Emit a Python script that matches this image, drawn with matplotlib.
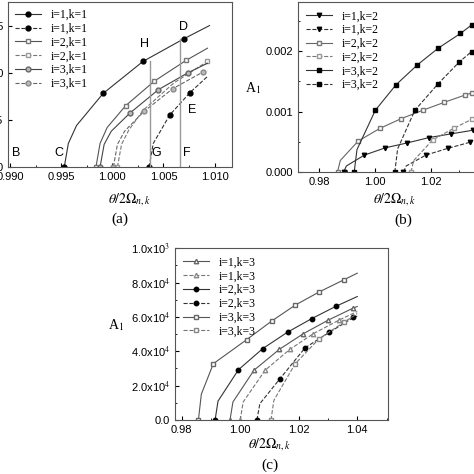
import matplotlib
matplotlib.use('Agg')
import matplotlib.pyplot as plt
from matplotlib.ticker import AutoMinorLocator

plt.rcParams['font.family'] = ['Liberation Sans', 'DejaVu Sans']
plt.rcParams['mathtext.fontset'] = 'stix'
SERIF = ['Liberation Serif', 'DejaVu Serif']

# ---------------- panel (a) data ----------------
a_labels = ['i=1,k=1', 'i=1,k=1', 'i=2,k=1', 'i=2,k=1', 'i=3,k=1', 'i=3,k=1']
a_x = [
    [0.9953, 0.9957, 0.9965, 0.9991, 1.0030, 1.0070, 1.0095],
    [1.0036, 1.0040, 1.0047, 1.0056, 1.0076, 1.0093],
    [0.9984, 0.9988, 0.9995, 1.0013, 1.0041, 1.0072, 1.0093],
    [1.0005, 1.0009, 1.0016, 1.0030, 1.0060, 1.0093],
    [0.9988, 0.9992, 0.9999, 1.0017, 1.0045, 1.0074, 1.0093],
    [1.0001, 1.0005, 1.0012, 1.0031, 1.0059, 1.0089, 1.0093],
]
a_y = [
    [0, 0.25, 0.44, 0.78, 1.12, 1.36, 1.50],
    [0, 0.25, 0.38, 0.55, 0.79, 0.96],
    [0, 0.25, 0.42, 0.65, 0.91, 1.13, 1.26],
    [0, 0.24, 0.39, 0.60, 0.89, 1.12],
    [0, 0.24, 0.38, 0.57, 0.82, 1.00, 1.10],
    [0, 0.24, 0.38, 0.59, 0.83, 1.01, 1.02],
]
a_marks = [[0, 3, 4, 5], [0, 3, 4], [0, 3, 4, 5], [0, 5], [0, 3, 4, 5], [0, 3, 4, 5]]
a_vx = [1.00365, 1.0066]
a_vtop = [1.12, 1.36]
a_pt_labels = ['B', 'C', 'G', 'F', 'E', 'H', 'D']
a_pt_x = [0.9906, 0.9948, 1.0043, 1.0073, 1.0078, 1.0031, 1.0070]
a_pt_y = [0.15, 0.15, 0.15, 0.15, 0.60, 1.30, 1.48]
a_xticks = [0.990, 0.995, 1.000, 1.005, 1.010]
a_xticklabels = ['0.990', '0.995', '1.000', '1.005', '1.010']
a_yticks = [0, 0.5, 1.0, 1.5]
a_yticklabels = ['0', '0.5', '1.0', '1.5']

# ---------------- panel (b) data ----------------
b_labels = ['i=1,k=2', 'i=1,k=2', 'i=2,k=2', 'i=2,k=2', 'i=3,k=2', 'i=3,k=2']
b_x = [
    [0.9887, 0.9897, 0.9962, 1.0037, 1.0115, 1.0195, 1.0273, 1.0351],
    [1.0102, 1.0112, 1.0183, 1.0261, 1.0340],
    [0.9865, 0.9875, 0.9939, 1.0017, 1.0093, 1.0171, 1.0248, 1.0322, 1.0350],
    [1.0129, 1.0139, 1.0207, 1.0282, 1.0347],
    [0.9925, 0.9935, 1.0001, 1.0075, 1.0152, 1.0228, 1.0307, 1.0347],
    [1.0071, 1.0081, 1.0143, 1.0225, 1.0303, 1.0347],
]
b_y = [
    [0, 0.00010, 0.00028, 0.00040, 0.00048, 0.00057, 0.00063, 0.00069],
    [0, 0.00010, 0.00028, 0.00039, 0.00049],
    [0, 0.00019, 0.00051, 0.00072, 0.00088, 0.00102, 0.00115, 0.00127, 0.00131],
    [0, 0.00019, 0.00053, 0.00072, 0.00087],
    [0, 0.00037, 0.00102, 0.00144, 0.00177, 0.00205, 0.00229, 0.00243],
    [0, 0.00038, 0.00102, 0.00145, 0.00182, 0.00199],
]
b_xticks = [0.98, 1.00, 1.02, 1.04]
b_xticklabels = ['0.98', '1.00', '1.02', '1.04']
b_yticks = [0, 0.001, 0.002]
b_yticklabels = ['0.000', '0.001', '0.002']

# ---------------- panel (c) data (units of 1e-4) ----------------
c_labels = ['i=1,k=3', 'i=1,k=3', 'i=2,k=3', 'i=2,k=3', 'i=3,k=3', 'i=3,k=3']
c_x = [
    [0.9965, 0.9975, 1.0047, 1.0134, 1.0216, 1.0300, 1.0385, 1.0400],
    [1.0000, 1.0010, 1.0085, 1.0170, 1.0250, 1.0339, 1.0400],
    [0.9914, 0.9924, 0.9994, 1.0077, 1.0163, 1.0245, 1.0328, 1.0400],
    [1.0057, 1.0067, 1.0136, 1.0222, 1.0305, 1.0387, 1.0400],
    [0.9857, 0.9867, 0.9908, 1.0022, 1.0108, 1.0188, 1.0270, 1.0356, 1.0400],
    [1.0105, 1.0115, 1.0188, 1.0270, 1.0355, 1.0400],
]
c_y = [
    [0, 1.05, 2.90, 4.12, 5.03, 5.81, 6.51, 6.61],
    [0, 1.05, 2.90, 4.12, 5.03, 5.83, 6.32],
    [0, 1.10, 2.93, 4.16, 5.13, 5.91, 6.63, 7.19],
    [0, 0.95, 2.41, 4.21, 5.11, 5.97, 6.05],
    [0, 1.50, 3.28, 4.68, 5.77, 6.69, 7.46, 8.18, 8.55],
    [0, 1.15, 3.28, 4.74, 5.70, 6.20],
]
c_xticks = [0.98, 1.00, 1.02, 1.04]
c_xticklabels = ['0.98', '1.00', '1.02', '1.04']
c_yticks = [0, 2, 4, 6, 8, 10]
c_yticklabels = ['0.0', r'2.0x10$^4$', r'4.0x10$^4$', r'6.0x10$^4$', r'8.0x10$^4$', r'1.0x10$^3$']

W = 474.0
fig = plt.figure(figsize=(4.74, 4.74), dpi=100)

def px_axes(l, b, r, t):
    return fig.add_axes([l / W, 1 - b / W, (r - l) / W, (b - t) / W])

def style(ax):
    ax.tick_params(direction='in', labelsize=8, length=3)
    ax.tick_params(which='minor', direction='in', length=1.5)
    for s in ax.spines.values():
        s.set_color('#555555')

def marks_skip1(n, last=True):
    idx = [0] + list(range(2, n))
    if not last:
        idx = idx[:-1]
    return idx

styles_ls = ['-', '--']
XL = r'$\theta/2\Omega_{n,k}$'

# panel (a)
axa = px_axes(8, 167, 232, 2)
a_mk = [dict(marker='o', mfc='black', mec='black'),
        dict(marker='o', mfc='black', mec='black'),
        dict(marker='s', mfc='white', mec='#777777'),
        dict(marker='s', mfc='white', mec='#999999'),
        dict(marker='o', mfc='#bbbbbb', mec='#666666'),
        dict(marker='o', mfc='#bbbbbb', mec='#888888')]
a_col = ['#333333', '#333333', '#555555', '#777777', '#444444', '#666666']
for k in range(6):
    axa.plot(a_x[k], a_y[k], ls=styles_ls[k % 2], color=a_col[k], lw=0.8,
             ms=3.5, markevery=a_marks[k], label=a_labels[k], **a_mk[k])
for vx, vt in zip(a_vx, a_vtop):
    axa.plot([vx, vx], [0, vt], color='#999999', lw=1.0)
for t, x, y in zip(a_pt_labels, a_pt_x, a_pt_y):
    axa.text(x, y, t, fontsize=9, ha='center', va='center')
axa.set_xlim(0.9898, 1.0117)
axa.set_ylim(0, 1.75)
axa.set_xticks(a_xticks, a_xticklabels)
axa.set_yticks(a_yticks, a_yticklabels)
axa.xaxis.set_minor_locator(AutoMinorLocator(2))
style(axa)
fig.text(130 / W, 1 - 200 / W, XL, fontsize=10, ha='center', va='center')
axa.legend(loc='upper left', frameon=False, numpoints=1, handlelength=2.2,
           labelspacing=0.15, borderaxespad=0.2, prop={'family': SERIF, 'size': 8.5})
fig.text(120 / W, 1 - 219 / W, '(a)', fontsize=11, family=SERIF, ha='center', va='center')

# panel (b)
axb = px_axes(298, 172, 488, 2)
b_mk = [dict(marker='v', mfc='black', mec='black'),
        dict(marker='v', mfc='black', mec='black'),
        dict(marker='s', mfc='white', mec='#777777'),
        dict(marker='s', mfc='white', mec='#999999'),
        dict(marker='s', mfc='black', mec='black'),
        dict(marker='s', mfc='black', mec='black')]
b_col = ['#333333', '#333333', '#666666', '#777777', '#333333', '#333333']
for k in range(6):
    axb.plot(b_x[k], b_y[k], ls=styles_ls[k % 2], color=b_col[k], lw=0.8,
             ms=3.2, markevery=marks_skip1(len(b_x[k])), label=b_labels[k], **b_mk[k])
axb.set_xlim(0.9723, 1.0406)
axb.set_ylim(0, 0.00281)
axb.set_xticks(b_xticks, b_xticklabels)
axb.set_yticks(b_yticks, b_yticklabels)
axb.xaxis.set_minor_locator(AutoMinorLocator(2))
axb.yaxis.set_minor_locator(AutoMinorLocator(2))
style(axb)
fig.text(395 / W, 1 - 200 / W, XL, fontsize=10, ha='center', va='center')
fig.text(253 / W, 1 - 88 / W, r'A$_1$', fontsize=10, family=SERIF, ha='center', va='center')
axb.legend(loc='upper left', frameon=False, numpoints=1, handlelength=2.2,
           labelspacing=0.15, borderaxespad=0.3, prop={'family': SERIF, 'size': 8.5})
fig.text(403 / W, 1 - 220 / W, '(b)', fontsize=11, family=SERIF, ha='center', va='center')

# panel (c)
axc = px_axes(175, 420, 387.7, 248.3)
c_mk = [dict(marker='^', mfc='white', mec='#666666'),
        dict(marker='^', mfc='white', mec='#888888'),
        dict(marker='o', mfc='black', mec='black'),
        dict(marker='o', mfc='black', mec='black'),
        dict(marker='s', mfc='white', mec='#666666'),
        dict(marker='s', mfc='white', mec='#888888')]
c_col = ['#555555', '#777777', '#333333', '#333333', '#555555', '#777777']
for k in range(6):
    axc.plot(c_x[k], c_y[k], ls=styles_ls[k % 2], color=c_col[k], lw=0.8,
             ms=3.2, markevery=marks_skip1(len(c_x[k]), last=False), label=c_labels[k], **c_mk[k])
axc.set_xlim(0.9777, 1.0504)
axc.set_ylim(0, 10)
axc.set_xticks(c_xticks, c_xticklabels)
axc.set_yticks(c_yticks, c_yticklabels)
axc.xaxis.set_minor_locator(AutoMinorLocator(2))
axc.yaxis.set_minor_locator(AutoMinorLocator(2))
style(axc)
fig.text(270 / W, 1 - 445 / W, XL, fontsize=10, ha='center', va='center')
fig.text(116 / W, 1 - 325 / W, r'A$_1$', fontsize=10, family=SERIF, ha='center', va='center')
axc.legend(loc='upper left', frameon=False, numpoints=1, handlelength=2.2,
           labelspacing=0.15, borderaxespad=0.3, prop={'family': SERIF, 'size': 8.5})
fig.text(270 / W, 1 - 465 / W, '(c)', fontsize=11, family=SERIF, ha='center', va='center')

fig.savefig('out.png', dpi=100)
